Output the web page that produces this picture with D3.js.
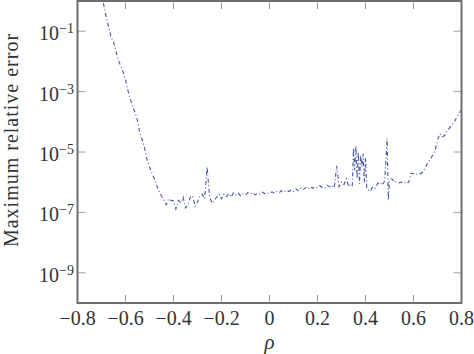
<head>
    <script src="https://d3js.org/d3.v7.min.js"></script>
    <style>
        body { margin: 0; background: #fff; }
    </style>
</head>
<body>
    <svg></svg>
    <script>
        // rho samples and the max relative error
        const rho = [
            -0.70, -0.69, -0.68, -0.67, -0.66, -0.65, -0.64, -0.63, -0.62, -0.61,
            -0.60, -0.59, -0.58, -0.57, -0.56, -0.55, -0.54, -0.53, -0.52, -0.51,
            -0.50, -0.49, -0.48, -0.47, -0.46, -0.45, -0.44, -0.43, -0.42, -0.41,
            -0.40, -0.39, -0.38, -0.37, -0.36, -0.35, -0.34, -0.33, -0.32, -0.31,
            -0.30, -0.29, -0.28, -0.27, -0.26, -0.25, -0.24, -0.23, -0.22, -0.21,
            -0.20, -0.19, -0.18, -0.17, -0.16, -0.15, -0.14, -0.13, -0.12, -0.11,
            -0.10, -0.09, -0.08, -0.07, -0.06, -0.05, -0.04, -0.03, -0.02, -0.01,
            0.00, 0.01, 0.02, 0.03, 0.04, 0.05, 0.06, 0.07, 0.08, 0.09,
            0.10, 0.11, 0.12, 0.13, 0.14, 0.15, 0.16, 0.17, 0.18, 0.19,
            0.20, 0.21, 0.22, 0.23, 0.24, 0.25, 0.26, 0.27, 0.28, 0.29,
            0.30, 0.31, 0.32, 0.33, 0.34, 0.345, 0.35, 0.355, 0.36, 0.365,
            0.37, 0.375, 0.38, 0.385, 0.39, 0.395, 0.40, 0.405, 0.41, 0.42,
            0.43, 0.44, 0.45, 0.46, 0.47, 0.48, 0.49, 0.495, 0.50, 0.51,
            0.52, 0.53, 0.54, 0.55, 0.56, 0.57, 0.58, 0.59, 0.60, 0.61,
            0.62, 0.63, 0.64, 0.65, 0.66, 0.67, 0.68, 0.69, 0.70, 0.71,
            0.72, 0.73, 0.74, 0.75, 0.76, 0.77, 0.78, 0.79, 0.80
        ]
        const maxRelError = [
            1.8, 0.71, 0.28, 0.14, 0.063, 0.045, 0.022, 0.011, 7.1e-3, 4.5e-3,
            2.5e-3, 1.1e-3, 5.6e-4, 3.2e-4, 2.0e-4, 1.1e-4, 4.0e-5, 2.5e-5, 1.3e-5, 5.6e-6,
            3.2e-6, 2.0e-6, 1.3e-6, 7.9e-7, 5.0e-7, 3.5e-7, 2.5e-7, 1.8e-7, 2.8e-7, 2.5e-7,
            2.4e-7, 1.3e-7, 2.5e-7, 2.1e-7, 3.2e-7, 1.4e-7, 1.8e-7, 3.2e-7, 3.5e-7, 1.6e-7,
            2.2e-7, 3.5e-7, 4.0e-7, 2.8e-7, 3.2e-6, 3.5e-7, 2.0e-7, 2.5e-7, 3.2e-7, 4.0e-7,
            2.8e-7, 4.0e-7, 3.3e-7, 4.2e-7, 3.2e-7, 4.5e-7, 3.8e-7, 4.3e-7, 3.5e-7, 4.2e-7,
            3.8e-7, 4.5e-7, 4.0e-7, 4.4e-7, 3.8e-7, 4.3e-7, 4.0e-7, 4.7e-7, 4.2e-7, 4.5e-7,
            4.2e-7, 4.8e-7, 4.4e-7, 5.0e-7, 4.5e-7, 5.2e-7, 4.7e-7, 5.4e-7, 4.9e-7, 5.6e-7,
            5.0e-7, 6.0e-7, 5.2e-7, 6.3e-7, 5.6e-7, 6.6e-7, 5.9e-7, 7.1e-7, 6.3e-7, 7.2e-7,
            6.6e-7, 7.6e-7, 6.6e-7, 6.3e-7, 7.9e-7, 7.1e-7, 7.9e-7, 6.6e-7, 3.5e-6, 7.1e-7,
            1.0e-6, 8.3e-7, 1.3e-6, 7.1e-7, 8.9e-7, 7.9e-7, 1.4e-5, 2.5e-6, 1.6e-5, 1.3e-6,
            1.0e-5, 8.9e-7, 7.9e-6, 3.2e-6, 8.9e-6, 1.0e-6, 6.3e-6, 7.1e-7, 5.6e-7, 5.0e-7,
            7.1e-7, 6.3e-7, 8.9e-7, 1.0e-6, 7.9e-7, 1.1e-6, 2.8e-5, 2.5e-7, 1.1e-6, 1.3e-6,
            1.0e-6, 1.05e-6, 9.5e-7, 1.0e-6, 1.05e-6, 8.9e-7, 1.0e-6, 2.0e-6, 1.9e-6, 1.8e-6,
            2.0e-6, 1.9e-6, 2.2e-6, 3.2e-6, 4.5e-6, 5.6e-6, 7.9e-6, 1.1e-5, 2.5e-5, 4.0e-5,
            3.2e-5, 3.5e-5, 5.0e-5, 6.3e-5, 7.9e-5, 1.0e-4, 1.4e-4, 1.9e-4, 2.5e-4
        ]
        const xTicks = [-0.8, -0.6, -0.4, -0.2, 0, 0.2, 0.4, 0.6, 0.8]
        const yTickExp = [-1, -3, -5, -7, -9]

        const width = 474,
              height = 354,
              plotLeft = 77.5, plotRight = 461.5, plotTop = 1, plotBottom = 303,
              serif = '"Liberation Serif", serif'

        const svg = d3.select('svg')
                      .attr('width', width)
                      .attr('height', height)

        const x = d3.scaleLinear().domain([-0.8, 0.8]).range([plotLeft, plotRight])
        const y = d3.scaleLog().domain([1e-10, 1]).range([plotBottom, plotTop])

        const fmt = v => v === 0 ? '0' : (v < 0 ? '\u2212' : '') + Math.abs(v).toFixed(1)

        // ticks on all four sides, pointing inward
        const tickLen = 8
        const ticks = svg.append('g').attr('stroke', '#a0a0a0').attr('stroke-width', 1)
        xTicks.slice(1, -1).forEach(t => {
            ticks.append('line').attr('x1', x(t)).attr('x2', x(t)).attr('y1', plotBottom).attr('y2', plotBottom - tickLen)
            ticks.append('line').attr('x1', x(t)).attr('x2', x(t)).attr('y1', plotTop).attr('y2', plotTop + tickLen)
        })
        yTickExp.forEach(e => {
            const yy = y(Math.pow(10, e))
            ticks.append('line').attr('x1', plotLeft).attr('x2', plotLeft + tickLen).attr('y1', yy).attr('y2', yy)
            ticks.append('line').attr('x1', plotRight).attr('x2', plotRight - tickLen).attr('y1', yy).attr('y2', yy)
        })

        svg.append('clipPath').attr('id', 'clip')
            .append('rect').attr('x', plotLeft).attr('y', plotTop)
            .attr('width', plotRight - plotLeft).attr('height', plotBottom - plotTop)

        const line = d3.line()
            .x((d, i) => x(rho[i]))
            .y(d => y(d))

        svg.append('path')
            .datum(maxRelError)
            .attr('clip-path', 'url(#clip)')
            .attr('d', line)
            .attr('fill', 'none')
            .attr('stroke', '#4656a0')
            .attr('stroke-width', 1.1)
            .attr('stroke-dasharray', '4,2.5,1,2.5')

        svg.append('rect')
            .attr('x', plotLeft).attr('y', plotTop)
            .attr('width', plotRight - plotLeft).attr('height', plotBottom - plotTop)
            .attr('fill', 'none').attr('stroke', '#6e6e6e').attr('stroke-width', 2)

        // x tick labels
        svg.append('g').selectAll('text')
            .data(xTicks).enter().append('text')
            .attr('x', d => x(d))
            .attr('y', 325)
            .attr('text-anchor', 'middle')
            .attr('font-family', serif)
            .attr('font-size', 20)
            .attr('fill', '#333')
            .text(fmt)

        // y tick labels 10^e
        const yl = svg.append('g').selectAll('text')
            .data(yTickExp).enter().append('text')
            .attr('x', 74)
            .attr('y', d => y(Math.pow(10, d)) + 9)
            .attr('text-anchor', 'end')
            .attr('font-family', serif)
            .attr('font-size', 20)
            .attr('fill', '#333')
        yl.append('tspan').text('10')
        yl.append('tspan').attr('dy', -7).attr('font-size', 14).text(d => '\u2212' + Math.abs(d))

        svg.append('text')
            .attr('x', x(0))
            .attr('y', 349)
            .attr('text-anchor', 'middle')
            .attr('font-family', serif)
            .attr('font-size', 21)
            .attr('font-style', 'italic')
            .attr('fill', '#333')
            .text('\u03c1')

        svg.append('text')
            .attr('transform', 'translate(18,' + 140 + ')rotate(-90)')
            .attr('text-anchor', 'middle')
            .attr('font-family', serif)
            .attr('font-size', 20)
            .attr('letter-spacing', 1)
            .attr('fill', '#333')
            .text('Maximum relative error')
    </script>
</body>
